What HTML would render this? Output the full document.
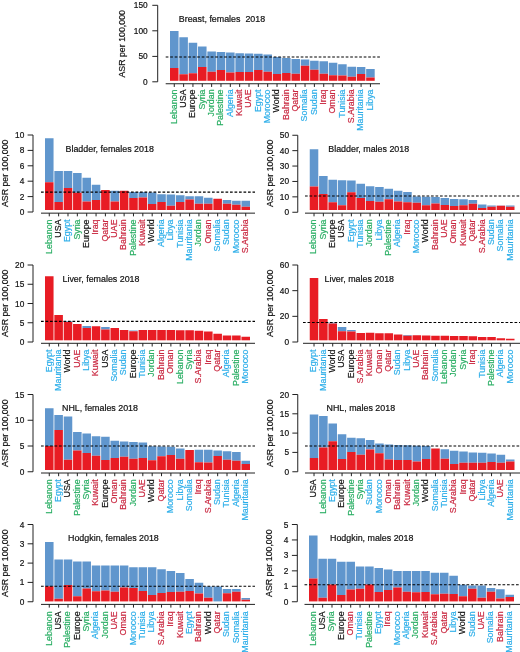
<!DOCTYPE html>
<html lang="en"><head><meta charset="utf-8"><title>ASR per 100,000 by cancer site, 2018</title>
<style>
html,body{margin:0;padding:0;background:#fff}
svg{display:block}
svg{font-family:"Liberation Sans",Arial,Helvetica,sans-serif;fill:#111}
text{stroke-width:0.2px}
</style></head>
<body>
<svg width="520" height="652" viewBox="0 0 520 652">
<rect width="520" height="652" fill="#fff"/>
<g>
<rect x="170" y="31" width="8.54" height="37" fill="#6096cd"/>
<rect x="170" y="68" width="8.54" height="12.8" fill="#e81c24"/>
<rect x="179.34" y="37.25" width="8.54" height="37" fill="#6096cd"/>
<rect x="179.34" y="74.25" width="8.54" height="6.55" fill="#e81c24"/>
<rect x="188.68" y="42.75" width="8.54" height="30.5" fill="#6096cd"/>
<rect x="188.68" y="73.25" width="8.54" height="7.55" fill="#e81c24"/>
<rect x="198.02" y="46.5" width="8.54" height="20.5" fill="#6096cd"/>
<rect x="198.02" y="67" width="8.54" height="13.8" fill="#e81c24"/>
<rect x="207.36" y="51.5" width="8.54" height="20.25" fill="#6096cd"/>
<rect x="207.36" y="71.75" width="8.54" height="9.05" fill="#e81c24"/>
<rect x="216.7" y="52" width="8.54" height="18" fill="#6096cd"/>
<rect x="216.7" y="70" width="8.54" height="10.8" fill="#e81c24"/>
<rect x="226.05" y="52.5" width="8.54" height="20" fill="#6096cd"/>
<rect x="226.05" y="72.5" width="8.54" height="8.3" fill="#e81c24"/>
<rect x="235.39" y="53.25" width="8.54" height="18.75" fill="#6096cd"/>
<rect x="235.39" y="72" width="8.54" height="8.8" fill="#e81c24"/>
<rect x="244.73" y="53.5" width="8.54" height="18.5" fill="#6096cd"/>
<rect x="244.73" y="72" width="8.54" height="8.8" fill="#e81c24"/>
<rect x="254.07" y="53.75" width="8.54" height="16.25" fill="#6096cd"/>
<rect x="254.07" y="70" width="8.54" height="10.8" fill="#e81c24"/>
<rect x="263.41" y="54.5" width="8.54" height="17.25" fill="#6096cd"/>
<rect x="263.41" y="71.75" width="8.54" height="9.05" fill="#e81c24"/>
<rect x="272.75" y="57" width="8.54" height="17" fill="#6096cd"/>
<rect x="272.75" y="74" width="8.54" height="6.8" fill="#e81c24"/>
<rect x="282.09" y="58" width="8.54" height="15" fill="#6096cd"/>
<rect x="282.09" y="73" width="8.54" height="7.8" fill="#e81c24"/>
<rect x="291.43" y="59" width="8.54" height="14.75" fill="#6096cd"/>
<rect x="291.43" y="73.75" width="8.54" height="7.05" fill="#e81c24"/>
<rect x="300.77" y="59.5" width="8.54" height="6.25" fill="#6096cd"/>
<rect x="300.77" y="65.75" width="8.54" height="15.05" fill="#e81c24"/>
<rect x="310.11" y="60.75" width="8.54" height="9" fill="#6096cd"/>
<rect x="310.11" y="69.75" width="8.54" height="11.05" fill="#e81c24"/>
<rect x="319.45" y="61.25" width="8.54" height="12.5" fill="#6096cd"/>
<rect x="319.45" y="73.75" width="8.54" height="7.05" fill="#e81c24"/>
<rect x="328.8" y="62.75" width="8.54" height="12.5" fill="#6096cd"/>
<rect x="328.8" y="75.25" width="8.54" height="5.55" fill="#e81c24"/>
<rect x="338.14" y="64.25" width="8.54" height="11.25" fill="#6096cd"/>
<rect x="338.14" y="75.5" width="8.54" height="5.3" fill="#e81c24"/>
<rect x="347.48" y="66.75" width="8.54" height="10" fill="#6096cd"/>
<rect x="347.48" y="76.75" width="8.54" height="4.05" fill="#e81c24"/>
<rect x="356.82" y="67" width="8.54" height="7" fill="#6096cd"/>
<rect x="356.82" y="74" width="8.54" height="6.8" fill="#e81c24"/>
<rect x="366.16" y="69" width="8.54" height="8.5" fill="#6096cd"/>
<rect x="366.16" y="77.5" width="8.54" height="3.3" fill="#e81c24"/>
<line x1="165.7" y1="57" x2="380" y2="57" stroke="#000" stroke-width="1.2" stroke-dasharray="2.7 1.8"/>
<path d="M157.7 5.3V81.8M157.7 5.3h-5.4M157.7 30.8h-5.4M157.7 56.4h-5.4M157.7 81.8h-5.4M165.7 83.75H380M174.27 83.75v3.2M183.61 83.75v3.2M192.95 83.75v3.2M202.29 83.75v3.2M211.63 83.75v3.2M220.98 83.75v3.2M230.32 83.75v3.2M239.66 83.75v3.2M249 83.75v3.2M258.34 83.75v3.2M267.68 83.75v3.2M277.02 83.75v3.2M286.36 83.75v3.2M295.7 83.75v3.2M305.04 83.75v3.2M314.38 83.75v3.2M323.73 83.75v3.2M333.07 83.75v3.2M342.41 83.75v3.2M351.75 83.75v3.2M361.09 83.75v3.2M370.43 83.75v3.2" stroke="#222" stroke-width="1" fill="none"/>
<text x="147.7" y="8.3" font-size="8.3" text-anchor="end" stroke="#111">150</text>
<text x="147.7" y="33.8" font-size="8.3" text-anchor="end" stroke="#111">100</text>
<text x="147.7" y="59.4" font-size="8.3" text-anchor="end" stroke="#111">50</text>
<text x="147.7" y="84.8" font-size="8.3" text-anchor="end" stroke="#111">0</text>
<text transform="translate(125.1 43.8) rotate(-90)" font-size="8.8" text-anchor="middle" stroke="#111">ASR per 100,000</text>
<text x="178.8" y="22" font-size="8.9" stroke="#111">Breast, females  2018</text>
<text transform="translate(176.57 89.45) rotate(-90)" font-size="8.85" text-anchor="end" fill="#27ad62" stroke="#27ad62" stroke-width="0.15">Lebanon</text>
<text transform="translate(185.91 89.45) rotate(-90)" font-size="8.85" text-anchor="end" fill="#111111" stroke="#111111" stroke-width="0.15">USA</text>
<text transform="translate(195.25 89.45) rotate(-90)" font-size="8.85" text-anchor="end" fill="#111111" stroke="#111111" stroke-width="0.15">Europe</text>
<text transform="translate(204.59 89.45) rotate(-90)" font-size="8.85" text-anchor="end" fill="#27ad62" stroke="#27ad62" stroke-width="0.15">Syria</text>
<text transform="translate(213.93 89.45) rotate(-90)" font-size="8.85" text-anchor="end" fill="#27ad62" stroke="#27ad62" stroke-width="0.15">Jordan</text>
<text transform="translate(223.28 89.45) rotate(-90)" font-size="8.85" text-anchor="end" fill="#27ad62" stroke="#27ad62" stroke-width="0.15">Palestine</text>
<text transform="translate(232.62 89.45) rotate(-90)" font-size="8.85" text-anchor="end" fill="#2aade9" stroke="#2aade9" stroke-width="0.15">Algeria</text>
<text transform="translate(241.96 89.45) rotate(-90)" font-size="8.85" text-anchor="end" fill="#c9263f" stroke="#c9263f" stroke-width="0.15">Kuwait</text>
<text transform="translate(251.3 89.45) rotate(-90)" font-size="8.85" text-anchor="end" fill="#c9263f" stroke="#c9263f" stroke-width="0.15">UAE</text>
<text transform="translate(260.64 89.45) rotate(-90)" font-size="8.85" text-anchor="end" fill="#2aade9" stroke="#2aade9" stroke-width="0.15">Egypt</text>
<text transform="translate(269.98 89.45) rotate(-90)" font-size="8.85" text-anchor="end" fill="#2aade9" stroke="#2aade9" stroke-width="0.15">Morocco</text>
<text transform="translate(279.32 89.45) rotate(-90)" font-size="8.85" text-anchor="end" fill="#111111" stroke="#111111" stroke-width="0.15">World</text>
<text transform="translate(288.66 89.45) rotate(-90)" font-size="8.85" text-anchor="end" fill="#c9263f" stroke="#c9263f" stroke-width="0.15">Bahrain</text>
<text transform="translate(298 89.45) rotate(-90)" font-size="8.85" text-anchor="end" fill="#c9263f" stroke="#c9263f" stroke-width="0.15">Qatar</text>
<text transform="translate(307.34 89.45) rotate(-90)" font-size="8.85" text-anchor="end" fill="#2aade9" stroke="#2aade9" stroke-width="0.15">Somalia</text>
<text transform="translate(316.68 89.45) rotate(-90)" font-size="8.85" text-anchor="end" fill="#2aade9" stroke="#2aade9" stroke-width="0.15">Sudan</text>
<text transform="translate(326.03 89.45) rotate(-90)" font-size="8.85" text-anchor="end" fill="#c9263f" stroke="#c9263f" stroke-width="0.15">Iraq</text>
<text transform="translate(335.37 89.45) rotate(-90)" font-size="8.85" text-anchor="end" fill="#c9263f" stroke="#c9263f" stroke-width="0.15">Oman</text>
<text transform="translate(344.71 89.45) rotate(-90)" font-size="8.85" text-anchor="end" fill="#2aade9" stroke="#2aade9" stroke-width="0.15">Tunisia</text>
<text transform="translate(354.05 89.45) rotate(-90)" font-size="8.85" text-anchor="end" fill="#c9263f" stroke="#c9263f" stroke-width="0.15">S.Arabia</text>
<text transform="translate(363.39 89.45) rotate(-90)" font-size="8.85" text-anchor="end" fill="#2aade9" stroke="#2aade9" stroke-width="0.15">Mauritania</text>
<text transform="translate(372.73 89.45) rotate(-90)" font-size="8.85" text-anchor="end" fill="#2aade9" stroke="#2aade9" stroke-width="0.15">Libya</text>
</g>
<g>
<rect x="45" y="138.25" width="8.55" height="44" fill="#6096cd"/>
<rect x="45" y="182.25" width="8.55" height="27.75" fill="#e81c24"/>
<rect x="54.35" y="171" width="8.55" height="31" fill="#6096cd"/>
<rect x="54.35" y="202" width="8.55" height="8" fill="#e81c24"/>
<rect x="63.71" y="171" width="8.55" height="17" fill="#6096cd"/>
<rect x="63.71" y="188" width="8.55" height="22" fill="#e81c24"/>
<rect x="73.06" y="173" width="8.55" height="19.75" fill="#6096cd"/>
<rect x="73.06" y="192.75" width="8.55" height="17.25" fill="#e81c24"/>
<rect x="82.42" y="177.75" width="8.55" height="23.75" fill="#6096cd"/>
<rect x="82.42" y="201.5" width="8.55" height="8.5" fill="#e81c24"/>
<rect x="91.77" y="184.75" width="8.55" height="15.25" fill="#6096cd"/>
<rect x="91.77" y="200" width="8.55" height="10" fill="#e81c24"/>
<rect x="101.13" y="190" width="8.55" height="20" fill="#e81c24"/>
<rect x="110.48" y="190.75" width="8.55" height="10.75" fill="#6096cd"/>
<rect x="110.48" y="201.5" width="8.55" height="8.5" fill="#e81c24"/>
<rect x="119.84" y="190.75" width="8.55" height="19.25" fill="#e81c24"/>
<rect x="129.19" y="192" width="8.55" height="6" fill="#6096cd"/>
<rect x="129.19" y="198" width="8.55" height="12" fill="#e81c24"/>
<rect x="138.55" y="192" width="8.55" height="5.5" fill="#6096cd"/>
<rect x="138.55" y="197.5" width="8.55" height="12.5" fill="#e81c24"/>
<rect x="147.9" y="192.5" width="8.55" height="11.5" fill="#6096cd"/>
<rect x="147.9" y="204" width="8.55" height="6" fill="#e81c24"/>
<rect x="157.25" y="194.25" width="8.55" height="7.75" fill="#6096cd"/>
<rect x="157.25" y="202" width="8.55" height="8" fill="#e81c24"/>
<rect x="166.61" y="194.5" width="8.55" height="11.25" fill="#6096cd"/>
<rect x="166.61" y="205.75" width="8.55" height="4.25" fill="#e81c24"/>
<rect x="175.96" y="195.25" width="8.55" height="6.75" fill="#6096cd"/>
<rect x="175.96" y="202" width="8.55" height="8" fill="#e81c24"/>
<rect x="185.32" y="196.25" width="8.55" height="3.25" fill="#6096cd"/>
<rect x="185.32" y="199.5" width="8.55" height="10.5" fill="#e81c24"/>
<rect x="194.67" y="196.25" width="8.55" height="7.5" fill="#6096cd"/>
<rect x="194.67" y="203.75" width="8.55" height="6.25" fill="#e81c24"/>
<rect x="204.03" y="197.75" width="8.55" height="6" fill="#6096cd"/>
<rect x="204.03" y="203.75" width="8.55" height="6.25" fill="#e81c24"/>
<rect x="213.38" y="198.75" width="8.55" height="11.25" fill="#e81c24"/>
<rect x="222.74" y="200" width="8.55" height="3.75" fill="#6096cd"/>
<rect x="222.74" y="203.75" width="8.55" height="6.25" fill="#e81c24"/>
<rect x="232.09" y="200.75" width="8.55" height="4" fill="#6096cd"/>
<rect x="232.09" y="204.75" width="8.55" height="5.25" fill="#e81c24"/>
<rect x="241.45" y="200.75" width="8.55" height="6" fill="#6096cd"/>
<rect x="241.45" y="206.75" width="8.55" height="3.25" fill="#e81c24"/>
<line x1="41" y1="192.1" x2="255" y2="192.1" stroke="#000" stroke-width="1.2" stroke-dasharray="2.7 1.8"/>
<path d="M33 135V212M33 135h-5.4M33 150.4h-5.4M33 165.8h-5.4M33 181.2h-5.4M33 196.6h-5.4M33 212h-5.4M41 213.15H255M49.28 213.15v3.2M58.63 213.15v3.2M67.99 213.15v3.2M77.34 213.15v3.2M86.7 213.15v3.2M96.05 213.15v3.2M105.4 213.15v3.2M114.76 213.15v3.2M124.11 213.15v3.2M133.47 213.15v3.2M142.82 213.15v3.2M152.18 213.15v3.2M161.53 213.15v3.2M170.89 213.15v3.2M180.24 213.15v3.2M189.6 213.15v3.2M198.95 213.15v3.2M208.3 213.15v3.2M217.66 213.15v3.2M227.01 213.15v3.2M236.37 213.15v3.2M245.72 213.15v3.2" stroke="#222" stroke-width="1" fill="none"/>
<text x="24.25" y="138" font-size="8.3" text-anchor="end" stroke="#111">10</text>
<text x="24.25" y="153.4" font-size="8.3" text-anchor="end" stroke="#111">8</text>
<text x="24.25" y="168.8" font-size="8.3" text-anchor="end" stroke="#111">6</text>
<text x="24.25" y="184.2" font-size="8.3" text-anchor="end" stroke="#111">4</text>
<text x="24.25" y="199.6" font-size="8.3" text-anchor="end" stroke="#111">2</text>
<text x="24.25" y="215" font-size="8.3" text-anchor="end" stroke="#111">0</text>
<text transform="translate(8.3 173.3) rotate(-90)" font-size="8.8" text-anchor="middle" stroke="#111">ASR per 100,000</text>
<text x="65.5" y="152" font-size="8.9" stroke="#111">Bladder, females 2018</text>
<text transform="translate(51.58 219.45) rotate(-90)" font-size="8.85" text-anchor="end" fill="#27ad62" stroke="#27ad62" stroke-width="0.15">Lebanon</text>
<text transform="translate(60.93 219.45) rotate(-90)" font-size="8.85" text-anchor="end" fill="#111111" stroke="#111111" stroke-width="0.15">USA</text>
<text transform="translate(70.29 219.45) rotate(-90)" font-size="8.85" text-anchor="end" fill="#2aade9" stroke="#2aade9" stroke-width="0.15">Egypt</text>
<text transform="translate(79.64 219.45) rotate(-90)" font-size="8.85" text-anchor="end" fill="#27ad62" stroke="#27ad62" stroke-width="0.15">Syria</text>
<text transform="translate(89 219.45) rotate(-90)" font-size="8.85" text-anchor="end" fill="#111111" stroke="#111111" stroke-width="0.15">Europe</text>
<text transform="translate(98.35 219.45) rotate(-90)" font-size="8.85" text-anchor="end" fill="#c9263f" stroke="#c9263f" stroke-width="0.15">Iraq</text>
<text transform="translate(107.7 219.45) rotate(-90)" font-size="8.85" text-anchor="end" fill="#c9263f" stroke="#c9263f" stroke-width="0.15">Qatar</text>
<text transform="translate(117.06 219.45) rotate(-90)" font-size="8.85" text-anchor="end" fill="#c9263f" stroke="#c9263f" stroke-width="0.15">UAE</text>
<text transform="translate(126.41 219.45) rotate(-90)" font-size="8.85" text-anchor="end" fill="#c9263f" stroke="#c9263f" stroke-width="0.15">Bahrain</text>
<text transform="translate(135.77 219.45) rotate(-90)" font-size="8.85" text-anchor="end" fill="#27ad62" stroke="#27ad62" stroke-width="0.15">Palestine</text>
<text transform="translate(145.12 219.45) rotate(-90)" font-size="8.85" text-anchor="end" fill="#c9263f" stroke="#c9263f" stroke-width="0.15">Kuwait</text>
<text transform="translate(154.48 219.45) rotate(-90)" font-size="8.85" text-anchor="end" fill="#111111" stroke="#111111" stroke-width="0.15">World</text>
<text transform="translate(163.83 219.45) rotate(-90)" font-size="8.85" text-anchor="end" fill="#2aade9" stroke="#2aade9" stroke-width="0.15">Algeria</text>
<text transform="translate(173.19 219.45) rotate(-90)" font-size="8.85" text-anchor="end" fill="#2aade9" stroke="#2aade9" stroke-width="0.15">Libya</text>
<text transform="translate(182.54 219.45) rotate(-90)" font-size="8.85" text-anchor="end" fill="#2aade9" stroke="#2aade9" stroke-width="0.15">Tunisia</text>
<text transform="translate(191.9 219.45) rotate(-90)" font-size="8.85" text-anchor="end" fill="#2aade9" stroke="#2aade9" stroke-width="0.15">Mauritania</text>
<text transform="translate(201.25 219.45) rotate(-90)" font-size="8.85" text-anchor="end" fill="#27ad62" stroke="#27ad62" stroke-width="0.15">Jordan</text>
<text transform="translate(210.6 219.45) rotate(-90)" font-size="8.85" text-anchor="end" fill="#c9263f" stroke="#c9263f" stroke-width="0.15">Oman</text>
<text transform="translate(219.96 219.45) rotate(-90)" font-size="8.85" text-anchor="end" fill="#2aade9" stroke="#2aade9" stroke-width="0.15">Somalia</text>
<text transform="translate(229.31 219.45) rotate(-90)" font-size="8.85" text-anchor="end" fill="#2aade9" stroke="#2aade9" stroke-width="0.15">Sudan</text>
<text transform="translate(238.67 219.45) rotate(-90)" font-size="8.85" text-anchor="end" fill="#2aade9" stroke="#2aade9" stroke-width="0.15">Morocco</text>
<text transform="translate(248.02 219.45) rotate(-90)" font-size="8.85" text-anchor="end" fill="#c9263f" stroke="#c9263f" stroke-width="0.15">S.Arabia</text>
</g>
<g>
<rect x="309.75" y="149.25" width="8.54" height="37.25" fill="#6096cd"/>
<rect x="309.75" y="186.5" width="8.54" height="23.5" fill="#e81c24"/>
<rect x="319.09" y="176" width="8.54" height="18" fill="#6096cd"/>
<rect x="319.09" y="194" width="8.54" height="16" fill="#e81c24"/>
<rect x="328.44" y="179.75" width="8.54" height="22.5" fill="#6096cd"/>
<rect x="328.44" y="202.25" width="8.54" height="7.75" fill="#e81c24"/>
<rect x="337.78" y="180.25" width="8.54" height="25" fill="#6096cd"/>
<rect x="337.78" y="205.25" width="8.54" height="4.75" fill="#e81c24"/>
<rect x="347.12" y="180.5" width="8.54" height="11.75" fill="#6096cd"/>
<rect x="347.12" y="192.25" width="8.54" height="17.75" fill="#e81c24"/>
<rect x="356.47" y="183.75" width="8.54" height="14.25" fill="#6096cd"/>
<rect x="356.47" y="198" width="8.54" height="12" fill="#e81c24"/>
<rect x="365.81" y="186.25" width="8.54" height="14.75" fill="#6096cd"/>
<rect x="365.81" y="201" width="8.54" height="9" fill="#e81c24"/>
<rect x="375.15" y="187" width="8.54" height="14.75" fill="#6096cd"/>
<rect x="375.15" y="201.75" width="8.54" height="8.25" fill="#e81c24"/>
<rect x="384.5" y="188.75" width="8.54" height="10.5" fill="#6096cd"/>
<rect x="384.5" y="199.25" width="8.54" height="10.75" fill="#e81c24"/>
<rect x="393.84" y="190.75" width="8.54" height="10.75" fill="#6096cd"/>
<rect x="393.84" y="201.5" width="8.54" height="8.5" fill="#e81c24"/>
<rect x="403.18" y="192" width="8.54" height="10.25" fill="#6096cd"/>
<rect x="403.18" y="202.25" width="8.54" height="7.75" fill="#e81c24"/>
<rect x="412.52" y="196.5" width="8.54" height="6.25" fill="#6096cd"/>
<rect x="412.52" y="202.75" width="8.54" height="7.25" fill="#e81c24"/>
<rect x="421.87" y="196.75" width="8.54" height="8.5" fill="#6096cd"/>
<rect x="421.87" y="205.25" width="8.54" height="4.75" fill="#e81c24"/>
<rect x="431.21" y="197" width="8.54" height="6.5" fill="#6096cd"/>
<rect x="431.21" y="203.5" width="8.54" height="6.5" fill="#e81c24"/>
<rect x="440.55" y="198" width="8.54" height="7" fill="#6096cd"/>
<rect x="440.55" y="205" width="8.54" height="5" fill="#e81c24"/>
<rect x="449.9" y="199" width="8.54" height="7" fill="#6096cd"/>
<rect x="449.9" y="206" width="8.54" height="4" fill="#e81c24"/>
<rect x="459.24" y="199.25" width="8.54" height="6" fill="#6096cd"/>
<rect x="459.24" y="205.25" width="8.54" height="4.75" fill="#e81c24"/>
<rect x="468.58" y="200" width="8.54" height="3.75" fill="#6096cd"/>
<rect x="468.58" y="203.75" width="8.54" height="6.25" fill="#e81c24"/>
<rect x="477.93" y="204.5" width="8.54" height="3.5" fill="#6096cd"/>
<rect x="477.93" y="208" width="8.54" height="2" fill="#e81c24"/>
<rect x="487.27" y="205.5" width="8.54" height="1.25" fill="#6096cd"/>
<rect x="487.27" y="206.75" width="8.54" height="3.25" fill="#e81c24"/>
<rect x="496.61" y="205.5" width="8.54" height="0.25" fill="#6096cd"/>
<rect x="496.61" y="205.75" width="8.54" height="4.25" fill="#e81c24"/>
<rect x="505.96" y="205.5" width="8.54" height="1.25" fill="#6096cd"/>
<rect x="505.96" y="206.75" width="8.54" height="3.25" fill="#e81c24"/>
<line x1="305" y1="196" x2="520" y2="196" stroke="#000" stroke-width="1.2" stroke-dasharray="2.7 1.8"/>
<path d="M297.75 135.25V212.25M297.75 135.25h-5.4M297.75 150.65h-5.4M297.75 166.05h-5.4M297.75 181.45h-5.4M297.75 196.85h-5.4M297.75 212.25h-5.4M305 213.15H520M314.02 213.15v3.2M323.36 213.15v3.2M332.71 213.15v3.2M342.05 213.15v3.2M351.39 213.15v3.2M360.74 213.15v3.2M370.08 213.15v3.2M379.42 213.15v3.2M388.77 213.15v3.2M398.11 213.15v3.2M407.45 213.15v3.2M416.8 213.15v3.2M426.14 213.15v3.2M435.48 213.15v3.2M444.83 213.15v3.2M454.17 213.15v3.2M463.51 213.15v3.2M472.86 213.15v3.2M482.2 213.15v3.2M491.54 213.15v3.2M500.89 213.15v3.2M510.23 213.15v3.2" stroke="#222" stroke-width="1" fill="none"/>
<text x="289" y="138.25" font-size="8.3" text-anchor="end" stroke="#111">50</text>
<text x="289" y="153.65" font-size="8.3" text-anchor="end" stroke="#111">40</text>
<text x="289" y="169.05" font-size="8.3" text-anchor="end" stroke="#111">30</text>
<text x="289" y="184.45" font-size="8.3" text-anchor="end" stroke="#111">20</text>
<text x="289" y="199.85" font-size="8.3" text-anchor="end" stroke="#111">10</text>
<text x="289" y="215.25" font-size="8.3" text-anchor="end" stroke="#111">0</text>
<text transform="translate(272.5 173.3) rotate(-90)" font-size="8.8" text-anchor="middle" stroke="#111">ASR per 100,000</text>
<text x="328.25" y="151.9" font-size="8.9" stroke="#111">Bladder, males 2018</text>
<text transform="translate(316.32 219.45) rotate(-90)" font-size="8.85" text-anchor="end" fill="#27ad62" stroke="#27ad62" stroke-width="0.15">Lebanon</text>
<text transform="translate(325.66 219.45) rotate(-90)" font-size="8.85" text-anchor="end" fill="#27ad62" stroke="#27ad62" stroke-width="0.15">Syria</text>
<text transform="translate(335.01 219.45) rotate(-90)" font-size="8.85" text-anchor="end" fill="#111111" stroke="#111111" stroke-width="0.15">Europe</text>
<text transform="translate(344.35 219.45) rotate(-90)" font-size="8.85" text-anchor="end" fill="#111111" stroke="#111111" stroke-width="0.15">USA</text>
<text transform="translate(353.69 219.45) rotate(-90)" font-size="8.85" text-anchor="end" fill="#2aade9" stroke="#2aade9" stroke-width="0.15">Egypt</text>
<text transform="translate(363.04 219.45) rotate(-90)" font-size="8.85" text-anchor="end" fill="#2aade9" stroke="#2aade9" stroke-width="0.15">Tunisia</text>
<text transform="translate(372.38 219.45) rotate(-90)" font-size="8.85" text-anchor="end" fill="#27ad62" stroke="#27ad62" stroke-width="0.15">Jordan</text>
<text transform="translate(381.72 219.45) rotate(-90)" font-size="8.85" text-anchor="end" fill="#2aade9" stroke="#2aade9" stroke-width="0.15">Libya</text>
<text transform="translate(391.07 219.45) rotate(-90)" font-size="8.85" text-anchor="end" fill="#27ad62" stroke="#27ad62" stroke-width="0.15">Palestine</text>
<text transform="translate(400.41 219.45) rotate(-90)" font-size="8.85" text-anchor="end" fill="#2aade9" stroke="#2aade9" stroke-width="0.15">Algeria</text>
<text transform="translate(409.75 219.45) rotate(-90)" font-size="8.85" text-anchor="end" fill="#c9263f" stroke="#c9263f" stroke-width="0.15">Iraq</text>
<text transform="translate(419.1 219.45) rotate(-90)" font-size="8.85" text-anchor="end" fill="#2aade9" stroke="#2aade9" stroke-width="0.15">Morocco</text>
<text transform="translate(428.44 219.45) rotate(-90)" font-size="8.85" text-anchor="end" fill="#111111" stroke="#111111" stroke-width="0.15">World</text>
<text transform="translate(437.78 219.45) rotate(-90)" font-size="8.85" text-anchor="end" fill="#c9263f" stroke="#c9263f" stroke-width="0.15">Bahrain</text>
<text transform="translate(447.13 219.45) rotate(-90)" font-size="8.85" text-anchor="end" fill="#c9263f" stroke="#c9263f" stroke-width="0.15">UAE</text>
<text transform="translate(456.47 219.45) rotate(-90)" font-size="8.85" text-anchor="end" fill="#c9263f" stroke="#c9263f" stroke-width="0.15">Oman</text>
<text transform="translate(465.81 219.45) rotate(-90)" font-size="8.85" text-anchor="end" fill="#c9263f" stroke="#c9263f" stroke-width="0.15">Kuwait</text>
<text transform="translate(475.16 219.45) rotate(-90)" font-size="8.85" text-anchor="end" fill="#c9263f" stroke="#c9263f" stroke-width="0.15">Qatar</text>
<text transform="translate(484.5 219.45) rotate(-90)" font-size="8.85" text-anchor="end" fill="#c9263f" stroke="#c9263f" stroke-width="0.15">S.Arabia</text>
<text transform="translate(493.84 219.45) rotate(-90)" font-size="8.85" text-anchor="end" fill="#2aade9" stroke="#2aade9" stroke-width="0.15">Sudan</text>
<text transform="translate(503.19 219.45) rotate(-90)" font-size="8.85" text-anchor="end" fill="#2aade9" stroke="#2aade9" stroke-width="0.15">Somalia</text>
<text transform="translate(512.53 219.45) rotate(-90)" font-size="8.85" text-anchor="end" fill="#2aade9" stroke="#2aade9" stroke-width="0.15">Mauritania</text>
</g>
<g>
<rect x="45" y="276.25" width="8.55" height="64.05" fill="#e81c24"/>
<rect x="54.35" y="315" width="8.55" height="25.3" fill="#e81c24"/>
<rect x="63.71" y="321.25" width="8.55" height="0.75" fill="#6096cd"/>
<rect x="63.71" y="322" width="8.55" height="18.3" fill="#e81c24"/>
<rect x="73.06" y="324" width="8.55" height="16.3" fill="#e81c24"/>
<rect x="82.42" y="326" width="8.55" height="2" fill="#6096cd"/>
<rect x="82.42" y="328" width="8.55" height="12.3" fill="#e81c24"/>
<rect x="91.77" y="326.25" width="8.55" height="14.05" fill="#e81c24"/>
<rect x="101.13" y="327" width="8.55" height="2.5" fill="#6096cd"/>
<rect x="101.13" y="329.5" width="8.55" height="10.8" fill="#e81c24"/>
<rect x="110.48" y="328" width="8.55" height="12.3" fill="#e81c24"/>
<rect x="119.84" y="330" width="8.55" height="10.3" fill="#e81c24"/>
<rect x="129.19" y="330.5" width="8.55" height="0.75" fill="#6096cd"/>
<rect x="129.19" y="331.25" width="8.55" height="9.05" fill="#e81c24"/>
<rect x="138.55" y="330" width="8.55" height="10.3" fill="#e81c24"/>
<rect x="147.9" y="330" width="8.55" height="10.3" fill="#e81c24"/>
<rect x="157.25" y="330" width="8.55" height="10.3" fill="#e81c24"/>
<rect x="166.61" y="330" width="8.55" height="10.3" fill="#e81c24"/>
<rect x="175.96" y="330.25" width="8.55" height="10.05" fill="#e81c24"/>
<rect x="185.32" y="330.25" width="8.55" height="10.05" fill="#e81c24"/>
<rect x="194.67" y="330.75" width="8.55" height="9.55" fill="#e81c24"/>
<rect x="204.03" y="331.5" width="8.55" height="8.8" fill="#e81c24"/>
<rect x="213.38" y="333.75" width="8.55" height="6.55" fill="#e81c24"/>
<rect x="222.74" y="335.5" width="8.55" height="4.8" fill="#e81c24"/>
<rect x="232.09" y="335.5" width="8.55" height="4.8" fill="#e81c24"/>
<rect x="241.45" y="336.75" width="8.55" height="3.55" fill="#e81c24"/>
<line x1="41" y1="321.4" x2="255" y2="321.4" stroke="#000" stroke-width="1.2" stroke-dasharray="2.7 1.8"/>
<path d="M33 265V342M33 265h-5.4M33 284.25h-5.4M33 303.5h-5.4M33 322.75h-5.4M33 342h-5.4M41 343.3H255M49.28 343.3v3.2M58.63 343.3v3.2M67.99 343.3v3.2M77.34 343.3v3.2M86.7 343.3v3.2M96.05 343.3v3.2M105.4 343.3v3.2M114.76 343.3v3.2M124.11 343.3v3.2M133.47 343.3v3.2M142.82 343.3v3.2M152.18 343.3v3.2M161.53 343.3v3.2M170.89 343.3v3.2M180.24 343.3v3.2M189.6 343.3v3.2M198.95 343.3v3.2M208.3 343.3v3.2M217.66 343.3v3.2M227.01 343.3v3.2M236.37 343.3v3.2M245.72 343.3v3.2" stroke="#222" stroke-width="1" fill="none"/>
<text x="24.25" y="268" font-size="8.3" text-anchor="end" stroke="#111">20</text>
<text x="24.25" y="287.25" font-size="8.3" text-anchor="end" stroke="#111">15</text>
<text x="24.25" y="306.5" font-size="8.3" text-anchor="end" stroke="#111">10</text>
<text x="24.25" y="325.75" font-size="8.3" text-anchor="end" stroke="#111">5</text>
<text x="24.25" y="345" font-size="8.3" text-anchor="end" stroke="#111">0</text>
<text transform="translate(8.3 303.3) rotate(-90)" font-size="8.8" text-anchor="middle" stroke="#111">ASR per 100,000</text>
<text x="62.5" y="281.9" font-size="8.9" stroke="#111">Liver, females 2018</text>
<text transform="translate(51.58 349.6) rotate(-90)" font-size="8.85" text-anchor="end" fill="#2aade9" stroke="#2aade9" stroke-width="0.15">Egypt</text>
<text transform="translate(60.93 349.6) rotate(-90)" font-size="8.85" text-anchor="end" fill="#2aade9" stroke="#2aade9" stroke-width="0.15">Mauritania</text>
<text transform="translate(70.29 349.6) rotate(-90)" font-size="8.85" text-anchor="end" fill="#111111" stroke="#111111" stroke-width="0.15">World</text>
<text transform="translate(79.64 349.6) rotate(-90)" font-size="8.85" text-anchor="end" fill="#c9263f" stroke="#c9263f" stroke-width="0.15">UAE</text>
<text transform="translate(89 349.6) rotate(-90)" font-size="8.85" text-anchor="end" fill="#2aade9" stroke="#2aade9" stroke-width="0.15">Libya</text>
<text transform="translate(98.35 349.6) rotate(-90)" font-size="8.85" text-anchor="end" fill="#c9263f" stroke="#c9263f" stroke-width="0.15">Kuwait</text>
<text transform="translate(107.7 349.6) rotate(-90)" font-size="8.85" text-anchor="end" fill="#111111" stroke="#111111" stroke-width="0.15">USA</text>
<text transform="translate(117.06 349.6) rotate(-90)" font-size="8.85" text-anchor="end" fill="#2aade9" stroke="#2aade9" stroke-width="0.15">Somalia</text>
<text transform="translate(126.41 349.6) rotate(-90)" font-size="8.85" text-anchor="end" fill="#2aade9" stroke="#2aade9" stroke-width="0.15">Sudan</text>
<text transform="translate(135.77 349.6) rotate(-90)" font-size="8.85" text-anchor="end" fill="#111111" stroke="#111111" stroke-width="0.15">Europe</text>
<text transform="translate(145.12 349.6) rotate(-90)" font-size="8.85" text-anchor="end" fill="#2aade9" stroke="#2aade9" stroke-width="0.15">Tunisia</text>
<text transform="translate(154.48 349.6) rotate(-90)" font-size="8.85" text-anchor="end" fill="#27ad62" stroke="#27ad62" stroke-width="0.15">Jordan</text>
<text transform="translate(163.83 349.6) rotate(-90)" font-size="8.85" text-anchor="end" fill="#c9263f" stroke="#c9263f" stroke-width="0.15">Bahrain</text>
<text transform="translate(173.19 349.6) rotate(-90)" font-size="8.85" text-anchor="end" fill="#c9263f" stroke="#c9263f" stroke-width="0.15">Oman</text>
<text transform="translate(182.54 349.6) rotate(-90)" font-size="8.85" text-anchor="end" fill="#27ad62" stroke="#27ad62" stroke-width="0.15">Lebanon</text>
<text transform="translate(191.9 349.6) rotate(-90)" font-size="8.85" text-anchor="end" fill="#27ad62" stroke="#27ad62" stroke-width="0.15">Syria</text>
<text transform="translate(201.25 349.6) rotate(-90)" font-size="8.85" text-anchor="end" fill="#c9263f" stroke="#c9263f" stroke-width="0.15">S.Arabia</text>
<text transform="translate(210.6 349.6) rotate(-90)" font-size="8.85" text-anchor="end" fill="#c9263f" stroke="#c9263f" stroke-width="0.15">Iraq</text>
<text transform="translate(219.96 349.6) rotate(-90)" font-size="8.85" text-anchor="end" fill="#c9263f" stroke="#c9263f" stroke-width="0.15">Qatar</text>
<text transform="translate(229.31 349.6) rotate(-90)" font-size="8.85" text-anchor="end" fill="#2aade9" stroke="#2aade9" stroke-width="0.15">Algeria</text>
<text transform="translate(238.67 349.6) rotate(-90)" font-size="8.85" text-anchor="end" fill="#27ad62" stroke="#27ad62" stroke-width="0.15">Palestine</text>
<text transform="translate(248.02 349.6) rotate(-90)" font-size="8.85" text-anchor="end" fill="#2aade9" stroke="#2aade9" stroke-width="0.15">Morocco</text>
</g>
<g>
<rect x="309.75" y="278" width="8.54" height="62.3" fill="#e81c24"/>
<rect x="319.09" y="319" width="8.54" height="21.3" fill="#e81c24"/>
<rect x="328.44" y="322.5" width="8.54" height="1" fill="#6096cd"/>
<rect x="328.44" y="323.5" width="8.54" height="16.8" fill="#e81c24"/>
<rect x="337.78" y="327" width="8.54" height="4.25" fill="#6096cd"/>
<rect x="337.78" y="331.25" width="8.54" height="9.05" fill="#e81c24"/>
<rect x="347.12" y="330" width="8.54" height="1.5" fill="#6096cd"/>
<rect x="347.12" y="331.5" width="8.54" height="8.8" fill="#e81c24"/>
<rect x="356.47" y="333" width="8.54" height="7.3" fill="#e81c24"/>
<rect x="365.81" y="332.75" width="8.54" height="7.55" fill="#e81c24"/>
<rect x="375.15" y="333.25" width="8.54" height="7.05" fill="#e81c24"/>
<rect x="384.5" y="333.25" width="8.54" height="7.05" fill="#e81c24"/>
<rect x="393.84" y="334.5" width="8.54" height="5.8" fill="#e81c24"/>
<rect x="403.18" y="335" width="8.54" height="0.75" fill="#6096cd"/>
<rect x="403.18" y="335.75" width="8.54" height="4.55" fill="#e81c24"/>
<rect x="412.52" y="335.25" width="8.54" height="5.05" fill="#e81c24"/>
<rect x="421.87" y="335.5" width="8.54" height="4.8" fill="#e81c24"/>
<rect x="431.21" y="335.75" width="8.54" height="4.55" fill="#e81c24"/>
<rect x="440.55" y="335.75" width="8.54" height="4.55" fill="#e81c24"/>
<rect x="449.9" y="336" width="8.54" height="4.3" fill="#e81c24"/>
<rect x="459.24" y="336" width="8.54" height="4.3" fill="#e81c24"/>
<rect x="468.58" y="336.25" width="8.54" height="4.05" fill="#e81c24"/>
<rect x="477.93" y="337" width="8.54" height="3.3" fill="#e81c24"/>
<rect x="487.27" y="337" width="8.54" height="3.3" fill="#e81c24"/>
<rect x="496.61" y="338.25" width="8.54" height="2.05" fill="#e81c24"/>
<rect x="505.96" y="338.75" width="8.54" height="1.55" fill="#e81c24"/>
<line x1="303" y1="322.5" x2="520" y2="322.5" stroke="#000" stroke-width="1.2" stroke-dasharray="2.7 1.8"/>
<path d="M297.75 265V342M297.75 265h-5.4M297.75 290.67h-5.4M297.75 316.33h-5.4M297.75 342h-5.4M303 343.3H520M314.02 343.3v3.2M323.36 343.3v3.2M332.71 343.3v3.2M342.05 343.3v3.2M351.39 343.3v3.2M360.74 343.3v3.2M370.08 343.3v3.2M379.42 343.3v3.2M388.77 343.3v3.2M398.11 343.3v3.2M407.45 343.3v3.2M416.8 343.3v3.2M426.14 343.3v3.2M435.48 343.3v3.2M444.83 343.3v3.2M454.17 343.3v3.2M463.51 343.3v3.2M472.86 343.3v3.2M482.2 343.3v3.2M491.54 343.3v3.2M500.89 343.3v3.2M510.23 343.3v3.2" stroke="#222" stroke-width="1" fill="none"/>
<text x="289" y="268" font-size="8.3" text-anchor="end" stroke="#111">60</text>
<text x="289" y="293.67" font-size="8.3" text-anchor="end" stroke="#111">40</text>
<text x="289" y="319.33" font-size="8.3" text-anchor="end" stroke="#111">20</text>
<text x="289" y="345" font-size="8.3" text-anchor="end" stroke="#111">0</text>
<text transform="translate(272.5 303.3) rotate(-90)" font-size="8.8" text-anchor="middle" stroke="#111">ASR per 100,000</text>
<text x="324.5" y="281.9" font-size="8.9" stroke="#111">Liver, males 2018</text>
<text transform="translate(316.32 349.6) rotate(-90)" font-size="8.85" text-anchor="end" fill="#2aade9" stroke="#2aade9" stroke-width="0.15">Egypt</text>
<text transform="translate(325.66 349.6) rotate(-90)" font-size="8.85" text-anchor="end" fill="#2aade9" stroke="#2aade9" stroke-width="0.15">Mauritania</text>
<text transform="translate(335.01 349.6) rotate(-90)" font-size="8.85" text-anchor="end" fill="#111111" stroke="#111111" stroke-width="0.15">World</text>
<text transform="translate(344.35 349.6) rotate(-90)" font-size="8.85" text-anchor="end" fill="#111111" stroke="#111111" stroke-width="0.15">USA</text>
<text transform="translate(353.69 349.6) rotate(-90)" font-size="8.85" text-anchor="end" fill="#111111" stroke="#111111" stroke-width="0.15">Europe</text>
<text transform="translate(363.04 349.6) rotate(-90)" font-size="8.85" text-anchor="end" fill="#c9263f" stroke="#c9263f" stroke-width="0.15">S.Arabia</text>
<text transform="translate(372.38 349.6) rotate(-90)" font-size="8.85" text-anchor="end" fill="#c9263f" stroke="#c9263f" stroke-width="0.15">Kuwait</text>
<text transform="translate(381.72 349.6) rotate(-90)" font-size="8.85" text-anchor="end" fill="#c9263f" stroke="#c9263f" stroke-width="0.15">Oman</text>
<text transform="translate(391.07 349.6) rotate(-90)" font-size="8.85" text-anchor="end" fill="#c9263f" stroke="#c9263f" stroke-width="0.15">Qatar</text>
<text transform="translate(400.41 349.6) rotate(-90)" font-size="8.85" text-anchor="end" fill="#2aade9" stroke="#2aade9" stroke-width="0.15">Sudan</text>
<text transform="translate(409.75 349.6) rotate(-90)" font-size="8.85" text-anchor="end" fill="#2aade9" stroke="#2aade9" stroke-width="0.15">Libya</text>
<text transform="translate(419.1 349.6) rotate(-90)" font-size="8.85" text-anchor="end" fill="#c9263f" stroke="#c9263f" stroke-width="0.15">UAE</text>
<text transform="translate(428.44 349.6) rotate(-90)" font-size="8.85" text-anchor="end" fill="#c9263f" stroke="#c9263f" stroke-width="0.15">Bahrain</text>
<text transform="translate(437.78 349.6) rotate(-90)" font-size="8.85" text-anchor="end" fill="#2aade9" stroke="#2aade9" stroke-width="0.15">Somalia</text>
<text transform="translate(447.13 349.6) rotate(-90)" font-size="8.85" text-anchor="end" fill="#27ad62" stroke="#27ad62" stroke-width="0.15">Lebanon</text>
<text transform="translate(456.47 349.6) rotate(-90)" font-size="8.85" text-anchor="end" fill="#27ad62" stroke="#27ad62" stroke-width="0.15">Jordan</text>
<text transform="translate(465.81 349.6) rotate(-90)" font-size="8.85" text-anchor="end" fill="#27ad62" stroke="#27ad62" stroke-width="0.15">Syria</text>
<text transform="translate(475.16 349.6) rotate(-90)" font-size="8.85" text-anchor="end" fill="#c9263f" stroke="#c9263f" stroke-width="0.15">Iraq</text>
<text transform="translate(484.5 349.6) rotate(-90)" font-size="8.85" text-anchor="end" fill="#2aade9" stroke="#2aade9" stroke-width="0.15">Tunisia</text>
<text transform="translate(493.84 349.6) rotate(-90)" font-size="8.85" text-anchor="end" fill="#27ad62" stroke="#27ad62" stroke-width="0.15">Palestine</text>
<text transform="translate(503.19 349.6) rotate(-90)" font-size="8.85" text-anchor="end" fill="#2aade9" stroke="#2aade9" stroke-width="0.15">Algeria</text>
<text transform="translate(512.53 349.6) rotate(-90)" font-size="8.85" text-anchor="end" fill="#2aade9" stroke="#2aade9" stroke-width="0.15">Morocco</text>
</g>
<g>
<rect x="45" y="408.25" width="8.55" height="37.75" fill="#6096cd"/>
<rect x="45" y="446" width="8.55" height="24" fill="#e81c24"/>
<rect x="54.35" y="415" width="8.55" height="15" fill="#6096cd"/>
<rect x="54.35" y="430" width="8.55" height="40" fill="#e81c24"/>
<rect x="63.71" y="416.5" width="8.55" height="43.25" fill="#6096cd"/>
<rect x="63.71" y="459.75" width="8.55" height="10.25" fill="#e81c24"/>
<rect x="73.06" y="432" width="8.55" height="18.5" fill="#6096cd"/>
<rect x="73.06" y="450.5" width="8.55" height="19.5" fill="#e81c24"/>
<rect x="82.42" y="433.5" width="8.55" height="19.5" fill="#6096cd"/>
<rect x="82.42" y="453" width="8.55" height="17" fill="#e81c24"/>
<rect x="91.77" y="436.25" width="8.55" height="19.5" fill="#6096cd"/>
<rect x="91.77" y="455.75" width="8.55" height="14.25" fill="#e81c24"/>
<rect x="101.13" y="436.75" width="8.55" height="23.25" fill="#6096cd"/>
<rect x="101.13" y="460" width="8.55" height="10" fill="#e81c24"/>
<rect x="110.48" y="440.75" width="8.55" height="17.25" fill="#6096cd"/>
<rect x="110.48" y="458" width="8.55" height="12" fill="#e81c24"/>
<rect x="119.84" y="441.5" width="8.55" height="15.25" fill="#6096cd"/>
<rect x="119.84" y="456.75" width="8.55" height="13.25" fill="#e81c24"/>
<rect x="129.19" y="442" width="8.55" height="16.75" fill="#6096cd"/>
<rect x="129.19" y="458.75" width="8.55" height="11.25" fill="#e81c24"/>
<rect x="138.55" y="442.5" width="8.55" height="15.5" fill="#6096cd"/>
<rect x="138.55" y="458" width="8.55" height="12" fill="#e81c24"/>
<rect x="147.9" y="446.25" width="8.55" height="14" fill="#6096cd"/>
<rect x="147.9" y="460.25" width="8.55" height="9.75" fill="#e81c24"/>
<rect x="157.25" y="446.5" width="8.55" height="9.75" fill="#6096cd"/>
<rect x="157.25" y="456.25" width="8.55" height="13.75" fill="#e81c24"/>
<rect x="166.61" y="446.75" width="8.55" height="8.25" fill="#6096cd"/>
<rect x="166.61" y="455" width="8.55" height="15" fill="#e81c24"/>
<rect x="175.96" y="448.5" width="8.55" height="10.25" fill="#6096cd"/>
<rect x="175.96" y="458.75" width="8.55" height="11.25" fill="#e81c24"/>
<rect x="185.32" y="450" width="8.55" height="20" fill="#e81c24"/>
<rect x="194.67" y="449.75" width="8.55" height="12.5" fill="#6096cd"/>
<rect x="194.67" y="462.25" width="8.55" height="7.75" fill="#e81c24"/>
<rect x="204.03" y="449.75" width="8.55" height="12.75" fill="#6096cd"/>
<rect x="204.03" y="462.5" width="8.55" height="7.5" fill="#e81c24"/>
<rect x="213.38" y="450.5" width="8.55" height="5.5" fill="#6096cd"/>
<rect x="213.38" y="456" width="8.55" height="14" fill="#e81c24"/>
<rect x="222.74" y="451.25" width="8.55" height="8.5" fill="#6096cd"/>
<rect x="222.74" y="459.75" width="8.55" height="10.25" fill="#e81c24"/>
<rect x="232.09" y="452" width="8.55" height="8.75" fill="#6096cd"/>
<rect x="232.09" y="460.75" width="8.55" height="9.25" fill="#e81c24"/>
<rect x="241.45" y="460.75" width="8.55" height="3.25" fill="#6096cd"/>
<rect x="241.45" y="464" width="8.55" height="6" fill="#e81c24"/>
<line x1="41" y1="446" x2="255" y2="446" stroke="#000" stroke-width="1.2" stroke-dasharray="2.7 1.8"/>
<path d="M33 394.5V471.75M33 394.5h-5.4M33 420.25h-5.4M33 446h-5.4M33 471.75h-5.4M41 473H255M49.28 473v3.2M58.63 473v3.2M67.99 473v3.2M77.34 473v3.2M86.7 473v3.2M96.05 473v3.2M105.4 473v3.2M114.76 473v3.2M124.11 473v3.2M133.47 473v3.2M142.82 473v3.2M152.18 473v3.2M161.53 473v3.2M170.89 473v3.2M180.24 473v3.2M189.6 473v3.2M198.95 473v3.2M208.3 473v3.2M217.66 473v3.2M227.01 473v3.2M236.37 473v3.2M245.72 473v3.2" stroke="#222" stroke-width="1" fill="none"/>
<text x="24.25" y="397.5" font-size="8.3" text-anchor="end" stroke="#111">15</text>
<text x="24.25" y="423.25" font-size="8.3" text-anchor="end" stroke="#111">10</text>
<text x="24.25" y="449" font-size="8.3" text-anchor="end" stroke="#111">5</text>
<text x="24.25" y="474.75" font-size="8.3" text-anchor="end" stroke="#111">0</text>
<text transform="translate(8.3 433.2) rotate(-90)" font-size="8.8" text-anchor="middle" stroke="#111">ASR per 100,000</text>
<text x="62" y="411.4" font-size="8.9" stroke="#111">NHL, females 2018</text>
<text transform="translate(51.58 479.3) rotate(-90)" font-size="8.85" text-anchor="end" fill="#27ad62" stroke="#27ad62" stroke-width="0.15">Lebanon</text>
<text transform="translate(60.93 479.3) rotate(-90)" font-size="8.85" text-anchor="end" fill="#2aade9" stroke="#2aade9" stroke-width="0.15">Egypt</text>
<text transform="translate(70.29 479.3) rotate(-90)" font-size="8.85" text-anchor="end" fill="#111111" stroke="#111111" stroke-width="0.15">USA</text>
<text transform="translate(79.64 479.3) rotate(-90)" font-size="8.85" text-anchor="end" fill="#27ad62" stroke="#27ad62" stroke-width="0.15">Palestine</text>
<text transform="translate(89 479.3) rotate(-90)" font-size="8.85" text-anchor="end" fill="#27ad62" stroke="#27ad62" stroke-width="0.15">Syria</text>
<text transform="translate(98.35 479.3) rotate(-90)" font-size="8.85" text-anchor="end" fill="#c9263f" stroke="#c9263f" stroke-width="0.15">Kuwait</text>
<text transform="translate(107.7 479.3) rotate(-90)" font-size="8.85" text-anchor="end" fill="#111111" stroke="#111111" stroke-width="0.15">Europe</text>
<text transform="translate(117.06 479.3) rotate(-90)" font-size="8.85" text-anchor="end" fill="#c9263f" stroke="#c9263f" stroke-width="0.15">Oman</text>
<text transform="translate(126.41 479.3) rotate(-90)" font-size="8.85" text-anchor="end" fill="#c9263f" stroke="#c9263f" stroke-width="0.15">Bahrain</text>
<text transform="translate(135.77 479.3) rotate(-90)" font-size="8.85" text-anchor="end" fill="#27ad62" stroke="#27ad62" stroke-width="0.15">Jordan</text>
<text transform="translate(145.12 479.3) rotate(-90)" font-size="8.85" text-anchor="end" fill="#c9263f" stroke="#c9263f" stroke-width="0.15">UAE</text>
<text transform="translate(154.48 479.3) rotate(-90)" font-size="8.85" text-anchor="end" fill="#111111" stroke="#111111" stroke-width="0.15">World</text>
<text transform="translate(163.83 479.3) rotate(-90)" font-size="8.85" text-anchor="end" fill="#c9263f" stroke="#c9263f" stroke-width="0.15">Qatar</text>
<text transform="translate(173.19 479.3) rotate(-90)" font-size="8.85" text-anchor="end" fill="#2aade9" stroke="#2aade9" stroke-width="0.15">Morocco</text>
<text transform="translate(182.54 479.3) rotate(-90)" font-size="8.85" text-anchor="end" fill="#2aade9" stroke="#2aade9" stroke-width="0.15">Libya</text>
<text transform="translate(191.9 479.3) rotate(-90)" font-size="8.85" text-anchor="end" fill="#2aade9" stroke="#2aade9" stroke-width="0.15">Somalia</text>
<text transform="translate(201.25 479.3) rotate(-90)" font-size="8.85" text-anchor="end" fill="#c9263f" stroke="#c9263f" stroke-width="0.15">Iraq</text>
<text transform="translate(210.6 479.3) rotate(-90)" font-size="8.85" text-anchor="end" fill="#c9263f" stroke="#c9263f" stroke-width="0.15">S.Arabia</text>
<text transform="translate(219.96 479.3) rotate(-90)" font-size="8.85" text-anchor="end" fill="#2aade9" stroke="#2aade9" stroke-width="0.15">Sudan</text>
<text transform="translate(229.31 479.3) rotate(-90)" font-size="8.85" text-anchor="end" fill="#2aade9" stroke="#2aade9" stroke-width="0.15">Tunisia</text>
<text transform="translate(238.67 479.3) rotate(-90)" font-size="8.85" text-anchor="end" fill="#2aade9" stroke="#2aade9" stroke-width="0.15">Algeria</text>
<text transform="translate(248.02 479.3) rotate(-90)" font-size="8.85" text-anchor="end" fill="#2aade9" stroke="#2aade9" stroke-width="0.15">Mauritania</text>
</g>
<g>
<rect x="309.75" y="414.5" width="8.54" height="43.5" fill="#6096cd"/>
<rect x="309.75" y="458" width="8.54" height="12" fill="#e81c24"/>
<rect x="319.09" y="416" width="8.54" height="31.5" fill="#6096cd"/>
<rect x="319.09" y="447.5" width="8.54" height="22.5" fill="#e81c24"/>
<rect x="328.44" y="423.5" width="8.54" height="17.75" fill="#6096cd"/>
<rect x="328.44" y="441.25" width="8.54" height="28.75" fill="#e81c24"/>
<rect x="337.78" y="434.25" width="8.54" height="24.75" fill="#6096cd"/>
<rect x="337.78" y="459" width="8.54" height="11" fill="#e81c24"/>
<rect x="347.12" y="437.75" width="8.54" height="14.25" fill="#6096cd"/>
<rect x="347.12" y="452" width="8.54" height="18" fill="#e81c24"/>
<rect x="356.47" y="438.25" width="8.54" height="16.5" fill="#6096cd"/>
<rect x="356.47" y="454.75" width="8.54" height="15.25" fill="#e81c24"/>
<rect x="365.81" y="440" width="8.54" height="9.5" fill="#6096cd"/>
<rect x="365.81" y="449.5" width="8.54" height="20.5" fill="#e81c24"/>
<rect x="375.15" y="443.5" width="8.54" height="9.75" fill="#6096cd"/>
<rect x="375.15" y="453.25" width="8.54" height="16.75" fill="#e81c24"/>
<rect x="384.5" y="444.5" width="8.54" height="15" fill="#6096cd"/>
<rect x="384.5" y="459.5" width="8.54" height="10.5" fill="#e81c24"/>
<rect x="393.84" y="445" width="8.54" height="15" fill="#6096cd"/>
<rect x="393.84" y="460" width="8.54" height="10" fill="#e81c24"/>
<rect x="403.18" y="445.25" width="8.54" height="14.75" fill="#6096cd"/>
<rect x="403.18" y="460" width="8.54" height="10" fill="#e81c24"/>
<rect x="412.52" y="445.75" width="8.54" height="15.75" fill="#6096cd"/>
<rect x="412.52" y="461.5" width="8.54" height="8.5" fill="#e81c24"/>
<rect x="421.87" y="446" width="8.54" height="13" fill="#6096cd"/>
<rect x="421.87" y="459" width="8.54" height="11" fill="#e81c24"/>
<rect x="431.21" y="448.5" width="8.54" height="21.5" fill="#e81c24"/>
<rect x="440.55" y="449.25" width="8.54" height="9.5" fill="#6096cd"/>
<rect x="440.55" y="458.75" width="8.54" height="11.25" fill="#e81c24"/>
<rect x="449.9" y="450.75" width="8.54" height="13.25" fill="#6096cd"/>
<rect x="449.9" y="464" width="8.54" height="6" fill="#e81c24"/>
<rect x="459.24" y="451.5" width="8.54" height="11.25" fill="#6096cd"/>
<rect x="459.24" y="462.75" width="8.54" height="7.25" fill="#e81c24"/>
<rect x="468.58" y="452.5" width="8.54" height="10.25" fill="#6096cd"/>
<rect x="468.58" y="462.75" width="8.54" height="7.25" fill="#e81c24"/>
<rect x="477.93" y="452.75" width="8.54" height="10" fill="#6096cd"/>
<rect x="477.93" y="462.75" width="8.54" height="7.25" fill="#e81c24"/>
<rect x="487.27" y="453.5" width="8.54" height="8.5" fill="#6096cd"/>
<rect x="487.27" y="462" width="8.54" height="8" fill="#e81c24"/>
<rect x="496.61" y="454.75" width="8.54" height="8" fill="#6096cd"/>
<rect x="496.61" y="462.75" width="8.54" height="7.25" fill="#e81c24"/>
<rect x="505.96" y="459.5" width="8.54" height="2" fill="#6096cd"/>
<rect x="505.96" y="461.5" width="8.54" height="8.5" fill="#e81c24"/>
<line x1="305" y1="446" x2="520" y2="446" stroke="#000" stroke-width="1.2" stroke-dasharray="2.7 1.8"/>
<path d="M297.75 394.5V471.75M297.75 394.5h-5.4M297.75 413.8h-5.4M297.75 433.1h-5.4M297.75 452.4h-5.4M297.75 471.75h-5.4M305 473H520M314.02 473v3.2M323.36 473v3.2M332.71 473v3.2M342.05 473v3.2M351.39 473v3.2M360.74 473v3.2M370.08 473v3.2M379.42 473v3.2M388.77 473v3.2M398.11 473v3.2M407.45 473v3.2M416.8 473v3.2M426.14 473v3.2M435.48 473v3.2M444.83 473v3.2M454.17 473v3.2M463.51 473v3.2M472.86 473v3.2M482.2 473v3.2M491.54 473v3.2M500.89 473v3.2M510.23 473v3.2" stroke="#222" stroke-width="1" fill="none"/>
<text x="289" y="397.5" font-size="8.3" text-anchor="end" stroke="#111">20</text>
<text x="289" y="416.8" font-size="8.3" text-anchor="end" stroke="#111">15</text>
<text x="289" y="436.1" font-size="8.3" text-anchor="end" stroke="#111">10</text>
<text x="289" y="455.4" font-size="8.3" text-anchor="end" stroke="#111">5</text>
<text x="289" y="474.75" font-size="8.3" text-anchor="end" stroke="#111">0</text>
<text transform="translate(272.5 433.2) rotate(-90)" font-size="8.8" text-anchor="middle" stroke="#111">ASR per 100,000</text>
<text x="326.5" y="411.3" font-size="8.9" stroke="#111">NHL, males 2018</text>
<text transform="translate(316.32 479.3) rotate(-90)" font-size="8.85" text-anchor="end" fill="#111111" stroke="#111111" stroke-width="0.15">USA</text>
<text transform="translate(325.66 479.3) rotate(-90)" font-size="8.85" text-anchor="end" fill="#27ad62" stroke="#27ad62" stroke-width="0.15">Lebanon</text>
<text transform="translate(335.01 479.3) rotate(-90)" font-size="8.85" text-anchor="end" fill="#2aade9" stroke="#2aade9" stroke-width="0.15">Egypt</text>
<text transform="translate(344.35 479.3) rotate(-90)" font-size="8.85" text-anchor="end" fill="#111111" stroke="#111111" stroke-width="0.15">Europe</text>
<text transform="translate(353.69 479.3) rotate(-90)" font-size="8.85" text-anchor="end" fill="#27ad62" stroke="#27ad62" stroke-width="0.15">Palestine</text>
<text transform="translate(363.04 479.3) rotate(-90)" font-size="8.85" text-anchor="end" fill="#27ad62" stroke="#27ad62" stroke-width="0.15">Syria</text>
<text transform="translate(372.38 479.3) rotate(-90)" font-size="8.85" text-anchor="end" fill="#2aade9" stroke="#2aade9" stroke-width="0.15">Sudan</text>
<text transform="translate(381.72 479.3) rotate(-90)" font-size="8.85" text-anchor="end" fill="#2aade9" stroke="#2aade9" stroke-width="0.15">Morocco</text>
<text transform="translate(391.07 479.3) rotate(-90)" font-size="8.85" text-anchor="end" fill="#c9263f" stroke="#c9263f" stroke-width="0.15">Oman</text>
<text transform="translate(400.41 479.3) rotate(-90)" font-size="8.85" text-anchor="end" fill="#c9263f" stroke="#c9263f" stroke-width="0.15">Bahrain</text>
<text transform="translate(409.75 479.3) rotate(-90)" font-size="8.85" text-anchor="end" fill="#c9263f" stroke="#c9263f" stroke-width="0.15">Kuwait</text>
<text transform="translate(419.1 479.3) rotate(-90)" font-size="8.85" text-anchor="end" fill="#27ad62" stroke="#27ad62" stroke-width="0.15">Jordan</text>
<text transform="translate(428.44 479.3) rotate(-90)" font-size="8.85" text-anchor="end" fill="#111111" stroke="#111111" stroke-width="0.15">World</text>
<text transform="translate(437.78 479.3) rotate(-90)" font-size="8.85" text-anchor="end" fill="#2aade9" stroke="#2aade9" stroke-width="0.15">Somalia</text>
<text transform="translate(447.13 479.3) rotate(-90)" font-size="8.85" text-anchor="end" fill="#2aade9" stroke="#2aade9" stroke-width="0.15">Tunisia</text>
<text transform="translate(456.47 479.3) rotate(-90)" font-size="8.85" text-anchor="end" fill="#c9263f" stroke="#c9263f" stroke-width="0.15">S.Arabia</text>
<text transform="translate(465.81 479.3) rotate(-90)" font-size="8.85" text-anchor="end" fill="#c9263f" stroke="#c9263f" stroke-width="0.15">Iraq</text>
<text transform="translate(475.16 479.3) rotate(-90)" font-size="8.85" text-anchor="end" fill="#c9263f" stroke="#c9263f" stroke-width="0.15">Qatar</text>
<text transform="translate(484.5 479.3) rotate(-90)" font-size="8.85" text-anchor="end" fill="#2aade9" stroke="#2aade9" stroke-width="0.15">Libya</text>
<text transform="translate(493.84 479.3) rotate(-90)" font-size="8.85" text-anchor="end" fill="#2aade9" stroke="#2aade9" stroke-width="0.15">Algeria</text>
<text transform="translate(503.19 479.3) rotate(-90)" font-size="8.85" text-anchor="end" fill="#c9263f" stroke="#c9263f" stroke-width="0.15">UAE</text>
<text transform="translate(512.53 479.3) rotate(-90)" font-size="8.85" text-anchor="end" fill="#2aade9" stroke="#2aade9" stroke-width="0.15">Mauritania</text>
</g>
<g>
<rect x="45" y="542" width="8.55" height="44.25" fill="#6096cd"/>
<rect x="45" y="586.25" width="8.55" height="15.15" fill="#e81c24"/>
<rect x="54.35" y="559.5" width="8.55" height="39.25" fill="#6096cd"/>
<rect x="54.35" y="598.75" width="8.55" height="2.65" fill="#e81c24"/>
<rect x="63.71" y="559.5" width="8.55" height="25.5" fill="#6096cd"/>
<rect x="63.71" y="585" width="8.55" height="16.4" fill="#e81c24"/>
<rect x="73.06" y="561.5" width="8.55" height="34.75" fill="#6096cd"/>
<rect x="73.06" y="596.25" width="8.55" height="5.15" fill="#e81c24"/>
<rect x="82.42" y="561.5" width="8.55" height="27" fill="#6096cd"/>
<rect x="82.42" y="588.5" width="8.55" height="12.9" fill="#e81c24"/>
<rect x="91.77" y="565.5" width="8.55" height="25.75" fill="#6096cd"/>
<rect x="91.77" y="591.25" width="8.55" height="10.15" fill="#e81c24"/>
<rect x="101.13" y="565.5" width="8.55" height="25" fill="#6096cd"/>
<rect x="101.13" y="590.5" width="8.55" height="10.9" fill="#e81c24"/>
<rect x="110.48" y="565.5" width="8.55" height="26.25" fill="#6096cd"/>
<rect x="110.48" y="591.75" width="8.55" height="9.65" fill="#e81c24"/>
<rect x="119.84" y="565.5" width="8.55" height="22" fill="#6096cd"/>
<rect x="119.84" y="587.5" width="8.55" height="13.9" fill="#e81c24"/>
<rect x="129.19" y="567.25" width="8.55" height="20.75" fill="#6096cd"/>
<rect x="129.19" y="588" width="8.55" height="13.4" fill="#e81c24"/>
<rect x="138.55" y="567.25" width="8.55" height="23.75" fill="#6096cd"/>
<rect x="138.55" y="591" width="8.55" height="10.4" fill="#e81c24"/>
<rect x="147.9" y="567.25" width="8.55" height="27.75" fill="#6096cd"/>
<rect x="147.9" y="595" width="8.55" height="6.4" fill="#e81c24"/>
<rect x="157.25" y="569.25" width="8.55" height="23.75" fill="#6096cd"/>
<rect x="157.25" y="593" width="8.55" height="8.4" fill="#e81c24"/>
<rect x="166.61" y="571" width="8.55" height="21" fill="#6096cd"/>
<rect x="166.61" y="592" width="8.55" height="9.4" fill="#e81c24"/>
<rect x="175.96" y="573" width="8.55" height="18.75" fill="#6096cd"/>
<rect x="175.96" y="591.75" width="8.55" height="9.65" fill="#e81c24"/>
<rect x="185.32" y="579" width="8.55" height="12" fill="#6096cd"/>
<rect x="185.32" y="591" width="8.55" height="10.4" fill="#e81c24"/>
<rect x="194.67" y="582.75" width="8.55" height="10.75" fill="#6096cd"/>
<rect x="194.67" y="593.5" width="8.55" height="7.9" fill="#e81c24"/>
<rect x="204.03" y="586.5" width="8.55" height="11.25" fill="#6096cd"/>
<rect x="204.03" y="597.75" width="8.55" height="3.65" fill="#e81c24"/>
<rect x="213.38" y="586.5" width="8.55" height="14.9" fill="#6096cd"/>
<rect x="222.74" y="589" width="8.55" height="4.25" fill="#6096cd"/>
<rect x="222.74" y="593.25" width="8.55" height="8.15" fill="#e81c24"/>
<rect x="232.09" y="589" width="8.55" height="2.75" fill="#6096cd"/>
<rect x="232.09" y="591.75" width="8.55" height="9.65" fill="#e81c24"/>
<rect x="241.45" y="598" width="8.55" height="1.75" fill="#6096cd"/>
<rect x="241.45" y="599.75" width="8.55" height="1.65" fill="#e81c24"/>
<line x1="41" y1="586.25" x2="255" y2="586.25" stroke="#000" stroke-width="1.2" stroke-dasharray="2.7 1.8"/>
<path d="M33 524.5V601.75M33 524.5h-5.4M33 543.8h-5.4M33 563.1h-5.4M33 582.4h-5.4M33 601.75h-5.4M41 604.4H255M49.28 604.4v3.2M58.63 604.4v3.2M67.99 604.4v3.2M77.34 604.4v3.2M86.7 604.4v3.2M96.05 604.4v3.2M105.4 604.4v3.2M114.76 604.4v3.2M124.11 604.4v3.2M133.47 604.4v3.2M142.82 604.4v3.2M152.18 604.4v3.2M161.53 604.4v3.2M170.89 604.4v3.2M180.24 604.4v3.2M189.6 604.4v3.2M198.95 604.4v3.2M208.3 604.4v3.2M217.66 604.4v3.2M227.01 604.4v3.2M236.37 604.4v3.2M245.72 604.4v3.2" stroke="#222" stroke-width="1" fill="none"/>
<text x="24.25" y="527.5" font-size="8.3" text-anchor="end" stroke="#111">4</text>
<text x="24.25" y="546.8" font-size="8.3" text-anchor="end" stroke="#111">3</text>
<text x="24.25" y="566.1" font-size="8.3" text-anchor="end" stroke="#111">2</text>
<text x="24.25" y="585.4" font-size="8.3" text-anchor="end" stroke="#111">1</text>
<text x="24.25" y="604.75" font-size="8.3" text-anchor="end" stroke="#111">0</text>
<text transform="translate(8.3 563.2) rotate(-90)" font-size="8.8" text-anchor="middle" stroke="#111">ASR per 100,000</text>
<text x="68" y="541.2" font-size="8.9" stroke="#111">Hodgkin, females 2018</text>
<text transform="translate(51.58 611.4) rotate(-90)" font-size="8.85" text-anchor="end" fill="#27ad62" stroke="#27ad62" stroke-width="0.15">Lebanon</text>
<text transform="translate(60.93 611.4) rotate(-90)" font-size="8.85" text-anchor="end" fill="#111111" stroke="#111111" stroke-width="0.15">USA</text>
<text transform="translate(70.29 611.4) rotate(-90)" font-size="8.85" text-anchor="end" fill="#27ad62" stroke="#27ad62" stroke-width="0.15">Palestine</text>
<text transform="translate(79.64 611.4) rotate(-90)" font-size="8.85" text-anchor="end" fill="#111111" stroke="#111111" stroke-width="0.15">Europe</text>
<text transform="translate(89 611.4) rotate(-90)" font-size="8.85" text-anchor="end" fill="#27ad62" stroke="#27ad62" stroke-width="0.15">Syria</text>
<text transform="translate(98.35 611.4) rotate(-90)" font-size="8.85" text-anchor="end" fill="#2aade9" stroke="#2aade9" stroke-width="0.15">Algeria</text>
<text transform="translate(107.7 611.4) rotate(-90)" font-size="8.85" text-anchor="end" fill="#27ad62" stroke="#27ad62" stroke-width="0.15">Jordan</text>
<text transform="translate(117.06 611.4) rotate(-90)" font-size="8.85" text-anchor="end" fill="#c9263f" stroke="#c9263f" stroke-width="0.15">UAE</text>
<text transform="translate(126.41 611.4) rotate(-90)" font-size="8.85" text-anchor="end" fill="#c9263f" stroke="#c9263f" stroke-width="0.15">Oman</text>
<text transform="translate(135.77 611.4) rotate(-90)" font-size="8.85" text-anchor="end" fill="#2aade9" stroke="#2aade9" stroke-width="0.15">Morocco</text>
<text transform="translate(145.12 611.4) rotate(-90)" font-size="8.85" text-anchor="end" fill="#2aade9" stroke="#2aade9" stroke-width="0.15">Tunisia</text>
<text transform="translate(154.48 611.4) rotate(-90)" font-size="8.85" text-anchor="end" fill="#2aade9" stroke="#2aade9" stroke-width="0.15">Libya</text>
<text transform="translate(163.83 611.4) rotate(-90)" font-size="8.85" text-anchor="end" fill="#c9263f" stroke="#c9263f" stroke-width="0.15">S.Arabia</text>
<text transform="translate(173.19 611.4) rotate(-90)" font-size="8.85" text-anchor="end" fill="#c9263f" stroke="#c9263f" stroke-width="0.15">Iraq</text>
<text transform="translate(182.54 611.4) rotate(-90)" font-size="8.85" text-anchor="end" fill="#c9263f" stroke="#c9263f" stroke-width="0.15">Kuwait</text>
<text transform="translate(191.9 611.4) rotate(-90)" font-size="8.85" text-anchor="end" fill="#2aade9" stroke="#2aade9" stroke-width="0.15">Egypt</text>
<text transform="translate(201.25 611.4) rotate(-90)" font-size="8.85" text-anchor="end" fill="#c9263f" stroke="#c9263f" stroke-width="0.15">Bahrain</text>
<text transform="translate(210.6 611.4) rotate(-90)" font-size="8.85" text-anchor="end" fill="#111111" stroke="#111111" stroke-width="0.15">World</text>
<text transform="translate(219.96 611.4) rotate(-90)" font-size="8.85" text-anchor="end" fill="#c9263f" stroke="#c9263f" stroke-width="0.15">Qatar</text>
<text transform="translate(229.31 611.4) rotate(-90)" font-size="8.85" text-anchor="end" fill="#2aade9" stroke="#2aade9" stroke-width="0.15">Sudan</text>
<text transform="translate(238.67 611.4) rotate(-90)" font-size="8.85" text-anchor="end" fill="#2aade9" stroke="#2aade9" stroke-width="0.15">Somalia</text>
<text transform="translate(248.02 611.4) rotate(-90)" font-size="8.85" text-anchor="end" fill="#2aade9" stroke="#2aade9" stroke-width="0.15">Mauritania</text>
</g>
<g>
<rect x="309" y="535.5" width="8.55" height="43" fill="#6096cd"/>
<rect x="309" y="578.5" width="8.55" height="22.9" fill="#e81c24"/>
<rect x="318.35" y="558.75" width="8.55" height="39" fill="#6096cd"/>
<rect x="318.35" y="597.75" width="8.55" height="3.65" fill="#e81c24"/>
<rect x="327.71" y="558.75" width="8.55" height="25.75" fill="#6096cd"/>
<rect x="327.71" y="584.5" width="8.55" height="16.9" fill="#e81c24"/>
<rect x="337.06" y="561.75" width="8.55" height="33.25" fill="#6096cd"/>
<rect x="337.06" y="595" width="8.55" height="6.4" fill="#e81c24"/>
<rect x="346.42" y="561.75" width="8.55" height="27.75" fill="#6096cd"/>
<rect x="346.42" y="589.5" width="8.55" height="11.9" fill="#e81c24"/>
<rect x="355.77" y="566.5" width="8.55" height="22.25" fill="#6096cd"/>
<rect x="355.77" y="588.75" width="8.55" height="12.65" fill="#e81c24"/>
<rect x="365.13" y="566.5" width="8.55" height="18" fill="#6096cd"/>
<rect x="365.13" y="584.5" width="8.55" height="16.9" fill="#e81c24"/>
<rect x="374.48" y="568" width="8.55" height="24" fill="#6096cd"/>
<rect x="374.48" y="592" width="8.55" height="9.4" fill="#e81c24"/>
<rect x="383.84" y="569.5" width="8.55" height="20.5" fill="#6096cd"/>
<rect x="383.84" y="590" width="8.55" height="11.4" fill="#e81c24"/>
<rect x="393.19" y="571" width="8.55" height="16.5" fill="#6096cd"/>
<rect x="393.19" y="587.5" width="8.55" height="13.9" fill="#e81c24"/>
<rect x="402.55" y="571" width="8.55" height="20.75" fill="#6096cd"/>
<rect x="402.55" y="591.75" width="8.55" height="9.65" fill="#e81c24"/>
<rect x="411.9" y="571" width="8.55" height="21.25" fill="#6096cd"/>
<rect x="411.9" y="592.25" width="8.55" height="9.15" fill="#e81c24"/>
<rect x="421.25" y="571" width="8.55" height="21" fill="#6096cd"/>
<rect x="421.25" y="592" width="8.55" height="9.4" fill="#e81c24"/>
<rect x="430.61" y="572.75" width="8.55" height="21.5" fill="#6096cd"/>
<rect x="430.61" y="594.25" width="8.55" height="7.15" fill="#e81c24"/>
<rect x="439.96" y="572.75" width="8.55" height="21" fill="#6096cd"/>
<rect x="439.96" y="593.75" width="8.55" height="7.65" fill="#e81c24"/>
<rect x="449.32" y="575.75" width="8.55" height="18.25" fill="#6096cd"/>
<rect x="449.32" y="594" width="8.55" height="7.4" fill="#e81c24"/>
<rect x="458.67" y="584.75" width="8.55" height="11.5" fill="#6096cd"/>
<rect x="458.67" y="596.25" width="8.55" height="5.15" fill="#e81c24"/>
<rect x="468.03" y="585.5" width="8.55" height="3.25" fill="#6096cd"/>
<rect x="468.03" y="588.75" width="8.55" height="12.65" fill="#e81c24"/>
<rect x="477.38" y="585.5" width="8.55" height="12.25" fill="#6096cd"/>
<rect x="477.38" y="597.75" width="8.55" height="3.65" fill="#e81c24"/>
<rect x="486.74" y="588" width="8.55" height="3.75" fill="#6096cd"/>
<rect x="486.74" y="591.75" width="8.55" height="9.65" fill="#e81c24"/>
<rect x="496.09" y="589.25" width="8.55" height="9.25" fill="#6096cd"/>
<rect x="496.09" y="598.5" width="8.55" height="2.9" fill="#e81c24"/>
<rect x="505.45" y="594.75" width="8.55" height="2.25" fill="#6096cd"/>
<rect x="505.45" y="597" width="8.55" height="4.4" fill="#e81c24"/>
<line x1="304.5" y1="584.75" x2="520" y2="584.75" stroke="#000" stroke-width="1.2" stroke-dasharray="2.7 1.8"/>
<path d="M297.3 524.5V601.75M297.3 524.5h-5.4M297.3 539.95h-5.4M297.3 555.4h-5.4M297.3 570.85h-5.4M297.3 586.3h-5.4M297.3 601.75h-5.4M304.5 604.4H520M313.28 604.4v3.2M322.63 604.4v3.2M331.99 604.4v3.2M341.34 604.4v3.2M350.7 604.4v3.2M360.05 604.4v3.2M369.4 604.4v3.2M378.76 604.4v3.2M388.11 604.4v3.2M397.47 604.4v3.2M406.82 604.4v3.2M416.18 604.4v3.2M425.53 604.4v3.2M434.89 604.4v3.2M444.24 604.4v3.2M453.6 604.4v3.2M462.95 604.4v3.2M472.3 604.4v3.2M481.66 604.4v3.2M491.01 604.4v3.2M500.37 604.4v3.2M509.72 604.4v3.2" stroke="#222" stroke-width="1" fill="none"/>
<text x="288.4" y="527.5" font-size="8.3" text-anchor="end" stroke="#111">5</text>
<text x="288.4" y="542.95" font-size="8.3" text-anchor="end" stroke="#111">4</text>
<text x="288.4" y="558.4" font-size="8.3" text-anchor="end" stroke="#111">3</text>
<text x="288.4" y="573.85" font-size="8.3" text-anchor="end" stroke="#111">2</text>
<text x="288.4" y="589.3" font-size="8.3" text-anchor="end" stroke="#111">1</text>
<text x="288.4" y="604.75" font-size="8.3" text-anchor="end" stroke="#111">0</text>
<text transform="translate(272.3 563.2) rotate(-90)" font-size="8.8" text-anchor="middle" stroke="#111">ASR per 100,000</text>
<text x="330" y="541.2" font-size="8.9" stroke="#111">Hodgkin, males 2018</text>
<text transform="translate(315.58 611.4) rotate(-90)" font-size="8.85" text-anchor="end" fill="#27ad62" stroke="#27ad62" stroke-width="0.15">Lebanon</text>
<text transform="translate(324.93 611.4) rotate(-90)" font-size="8.85" text-anchor="end" fill="#111111" stroke="#111111" stroke-width="0.15">USA</text>
<text transform="translate(334.29 611.4) rotate(-90)" font-size="8.85" text-anchor="end" fill="#27ad62" stroke="#27ad62" stroke-width="0.15">Syria</text>
<text transform="translate(343.64 611.4) rotate(-90)" font-size="8.85" text-anchor="end" fill="#111111" stroke="#111111" stroke-width="0.15">Europe</text>
<text transform="translate(353 611.4) rotate(-90)" font-size="8.85" text-anchor="end" fill="#c9263f" stroke="#c9263f" stroke-width="0.15">Oman</text>
<text transform="translate(362.35 611.4) rotate(-90)" font-size="8.85" text-anchor="end" fill="#2aade9" stroke="#2aade9" stroke-width="0.15">Tunisia</text>
<text transform="translate(371.7 611.4) rotate(-90)" font-size="8.85" text-anchor="end" fill="#27ad62" stroke="#27ad62" stroke-width="0.15">Palestine</text>
<text transform="translate(381.06 611.4) rotate(-90)" font-size="8.85" text-anchor="end" fill="#2aade9" stroke="#2aade9" stroke-width="0.15">Egypt</text>
<text transform="translate(390.41 611.4) rotate(-90)" font-size="8.85" text-anchor="end" fill="#c9263f" stroke="#c9263f" stroke-width="0.15">Iraq</text>
<text transform="translate(399.77 611.4) rotate(-90)" font-size="8.85" text-anchor="end" fill="#2aade9" stroke="#2aade9" stroke-width="0.15">Morocco</text>
<text transform="translate(409.12 611.4) rotate(-90)" font-size="8.85" text-anchor="end" fill="#2aade9" stroke="#2aade9" stroke-width="0.15">Algeria</text>
<text transform="translate(418.48 611.4) rotate(-90)" font-size="8.85" text-anchor="end" fill="#27ad62" stroke="#27ad62" stroke-width="0.15">Jordan</text>
<text transform="translate(427.83 611.4) rotate(-90)" font-size="8.85" text-anchor="end" fill="#c9263f" stroke="#c9263f" stroke-width="0.15">Kuwait</text>
<text transform="translate(437.19 611.4) rotate(-90)" font-size="8.85" text-anchor="end" fill="#c9263f" stroke="#c9263f" stroke-width="0.15">S.Arabia</text>
<text transform="translate(446.54 611.4) rotate(-90)" font-size="8.85" text-anchor="end" fill="#c9263f" stroke="#c9263f" stroke-width="0.15">Qatar</text>
<text transform="translate(455.9 611.4) rotate(-90)" font-size="8.85" text-anchor="end" fill="#2aade9" stroke="#2aade9" stroke-width="0.15">Libya</text>
<text transform="translate(465.25 611.4) rotate(-90)" font-size="8.85" text-anchor="end" fill="#111111" stroke="#111111" stroke-width="0.15">World</text>
<text transform="translate(474.6 611.4) rotate(-90)" font-size="8.85" text-anchor="end" fill="#2aade9" stroke="#2aade9" stroke-width="0.15">Sudan</text>
<text transform="translate(483.96 611.4) rotate(-90)" font-size="8.85" text-anchor="end" fill="#c9263f" stroke="#c9263f" stroke-width="0.15">UAE</text>
<text transform="translate(493.31 611.4) rotate(-90)" font-size="8.85" text-anchor="end" fill="#2aade9" stroke="#2aade9" stroke-width="0.15">Somalia</text>
<text transform="translate(502.67 611.4) rotate(-90)" font-size="8.85" text-anchor="end" fill="#c9263f" stroke="#c9263f" stroke-width="0.15">Bahrain</text>
<text transform="translate(512.02 611.4) rotate(-90)" font-size="8.85" text-anchor="end" fill="#2aade9" stroke="#2aade9" stroke-width="0.15">Mauritania</text>
</g>
</svg>
</body></html>
